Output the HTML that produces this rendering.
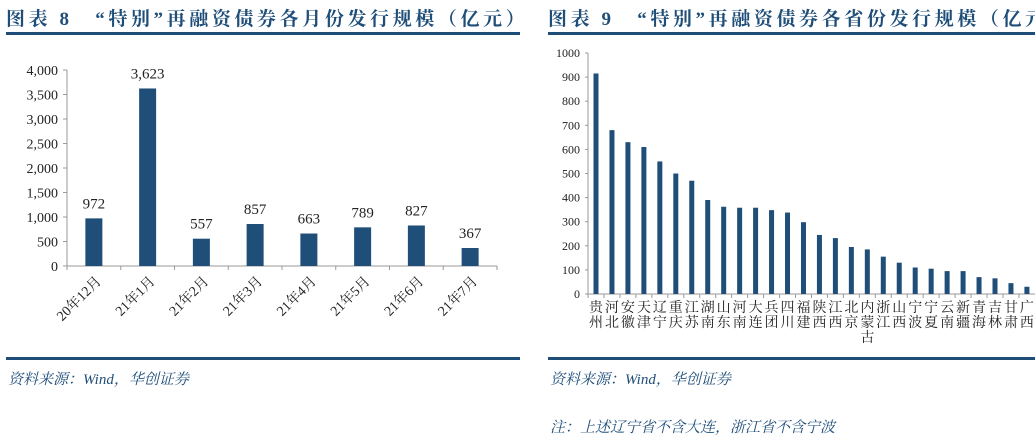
<!DOCTYPE html>
<html><head><meta charset="utf-8">
<style>
body{margin:0;width:1035px;height:441px;background:#fff;overflow:hidden;font-family:"Liberation Serif","Noto Serif CJK SC",serif;}
.t{position:absolute;color:#1f4e79;font-size:19px;font-weight:bold;white-space:nowrap;top:4px;letter-spacing:3.6px;}
.hl{position:absolute;height:3px;background:#1f4e79;}
.src{position:absolute;color:#1f4e79;font-style:italic;font-size:15px;white-space:nowrap;font-family:"Liberation Serif","Noto Serif CJK SC",serif;}
svg{position:absolute;left:0;top:0;}
svg text{font-family:"Liberation Serif","Noto Serif CJK SC",serif;fill:#222;}
</style></head><body>
<div class="t" style="left:6px">图表 8　“特别”再融资债券各月份发行规模（亿元）</div>
<div class="t" style="left:548px">图表 9　“特别”再融资债券各省份发行规模（亿元）</div>
<div class="hl" style="left:6px;width:514px;top:32px"></div>
<div class="hl" style="left:548px;width:487px;top:32px"></div>
<div class="hl" style="left:6px;width:514px;top:357px"></div>
<div class="hl" style="left:548px;width:487px;top:357px"></div>
<div class="src" style="left:8px;top:368px">资料来源：Wind，华创证券</div>
<div class="src" style="left:550px;top:368px">资料来源：Wind，华创证券</div>
<div class="src" style="left:550px;top:416px">注：上述辽宁省不含大连，浙江省不含宁波</div>
<svg id="chart" width="1035" height="441"></svg>
<script>
const monthCats=["20年12月","21年1月","21年2月","21年3月","21年4月","21年5月","21年6月","21年7月"];
const monthVals=[972,3623,557,857,663,789,827,367];
const monthTicks=[0,500,1000,1500,2000,2500,3000,3500,4000];
const provCats=["贵州","河北","安徽","天津","辽宁","重庆","江苏","湖南","山东","河南","大连","兵团","四川","福建","陕西","江西","北京","内蒙古","浙江","山西","宁波","宁夏","云南","新疆","青海","吉林","甘肃","广西"];
const provVals=[915,680,630,610,550,500,470,390,362,358,358,348,338,298,245,232,195,185,155,130,110,105,95,95,70,65,45,30];
const provTicks=[0,100,200,300,400,500,600,700,800,900,1000];

const svg=document.getElementById('chart');
const NS='http://www.w3.org/2000/svg';
function mk(tag,attrs,parent){const e=document.createElementNS(NS,tag);for(const k in attrs)e.setAttribute(k,attrs[k]);(parent||svg).appendChild(e);return e;}
const BAR='#1f4e79', AX='#999';

// Left chart
const L={x0:67,x1:497,y0:266,yTop:70,max:4000};
const ly=v=>L.y0-(v/L.max)*(L.y0-L.yTop);
const lstep=(L.x1-L.x0)/monthCats.length;
const lx=i=>L.x0+lstep*(i+0.5);
let e=mk('line',{x1:L.x0,y1:L.yTop,x2:L.x0,y2:L.y0,stroke:AX});

e=mk('line',{x1:L.x0,y1:L.y0,x2:L.x1,y2:L.y0,stroke:AX});

monthTicks.forEach(t=>{
  mk('line',{x1:L.x0-4,y1:ly(t),x2:L.x0,y2:ly(t),stroke:AX});
  e=mk('text',{x:L.x0-9,y:ly(t)+5,'text-anchor':'end','font-size':14});
  e.textContent=t.toLocaleString('en-US');
  
});
for(let i=0;i<=monthCats.length;i++)mk('line',{x1:L.x0+lstep*i,y1:L.y0,x2:L.x0+lstep*i,y2:L.y0+4,stroke:AX});
monthCats.forEach((c,i)=>{
  const v=monthVals[i];
  e=mk('rect',{x:lx(i)-8.5,y:ly(v),width:17,height:L.y0-ly(v),fill:BAR});
  
  e=mk('text',{x:lx(i),y:ly(v)-10,'text-anchor':'middle','font-size':15});
  e.textContent=v.toLocaleString('en-US');
  
  e=mk('text',{x:lx(i)+8,y:L.y0+16,'text-anchor':'end','font-size':14,transform:`rotate(-45 ${lx(i)+8} ${L.y0+16})`});
  e.textContent=c;
  
});

// Right chart
const R={x0:588,y0:294,yTop:53,max:1000,first:596,step:15.96};
const ry=v=>R.y0-(v/R.max)*(R.y0-R.yTop);
const rx=i=>R.first+R.step*i;
e=mk('line',{x1:R.x0,y1:R.yTop,x2:R.x0,y2:R.y0,stroke:AX});

e=mk('line',{x1:R.x0,y1:R.y0,x2:1035,y2:R.y0,stroke:AX});

provTicks.forEach(t=>{
  mk('line',{x1:R.x0-3,y1:ry(t),x2:R.x0,y2:ry(t),stroke:AX});
  e=mk('text',{x:R.x0-8,y:ry(t)+4,'text-anchor':'end','font-size':12});
  e.textContent=t;
  
});
provCats.forEach((c,i)=>{
  const v=provVals[i];
  mk('line',{x1:rx(i)-R.step/2,y1:R.y0,x2:rx(i)-R.step/2,y2:R.y0+4,stroke:AX});
  e=mk('rect',{x:rx(i)-2.5,y:ry(v),width:5,height:R.y0-ry(v),fill:BAR});
  
  e=mk('text',{x:rx(i),y:R.y0+18,'text-anchor':'middle','font-size':14,'font-family':'"Noto Sans CJK SC",sans-serif'});
  
  c.split('').forEach((ch,j)=>{
    const ts=mk('tspan',{x:rx(i),dy:j===0?0:15},e);
    ts.textContent=ch;
  });
});
</script>
</body></html>
